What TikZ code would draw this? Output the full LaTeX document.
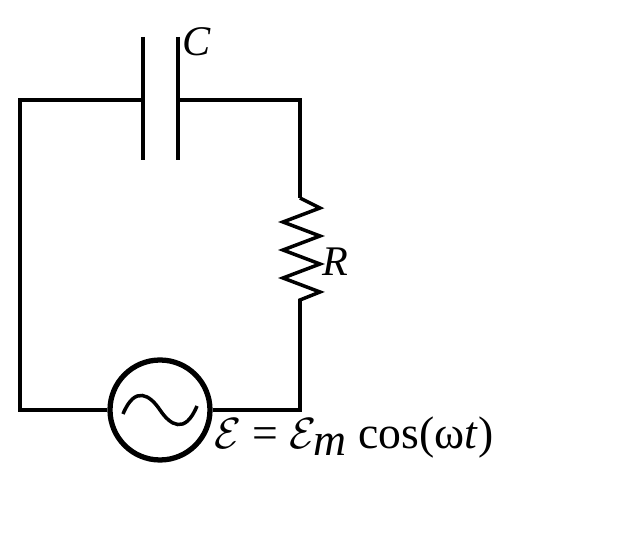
\documentclass[tikz,border=0pt]{standalone}
\usepackage{fontspec}
\setmainfont{Liberation Serif}
\begin{document}
\begin{tikzpicture}[x=0.02cm,y=-0.02cm,wire/.style={line width=2pt},lbl/.style={font=\fontsize{24}{28}\selectfont,inner sep=0pt}]
\useasboundingbox (0,0) rectangle (627,533);
\coordinate (tl) at (20,100); \coordinate (tr) at (300,100);
\coordinate (bl) at (20,410); \coordinate (br) at (300,410);
\coordinate (c1) at (143,100); \coordinate (c2) at (178,100);
\coordinate (r1) at (300,198); \coordinate (r2) at (300,310);
\node[circle,draw,line width=3pt,minimum size=2cm,inner sep=0pt] (src) at (160,410) {};
\draw[wire] (src.west) -- (bl) -- (tl) -- (c1);
\draw[wire] (143,37) -- (143,160);
\draw[wire] (178,37) -- (178,160);
\draw[wire] (c2) -- (tr) -- (r1);
\draw[wire,line join=miter] (r1) -- (320,208) -- (283,222) -- (320,236) -- (283,250) -- (320,264) -- (283,278) -- (320,292) -- (300,300) -- (r2);
\draw[wire] (r2) -- (br) -- (src.east);
\draw[line width=2pt] (123,414) .. controls (135,385) and (150,395) .. (160,410) .. controls (170,425) and (185,435) .. (197,406);
\node[lbl,anchor=west] (cl) at (182,42) {\textit{C}};
\node[lbl,anchor=west] (rl) at (322,262) {\textit{R}};
\node[lbl,anchor=west,font=\fontsize{26}{30}\selectfont] (el) at (214,438) {$\mathcal{E}$ = $\mathcal{E}_{\textit{m}}$ cos(ω\textit{t})};
\end{tikzpicture}
\end{document}
